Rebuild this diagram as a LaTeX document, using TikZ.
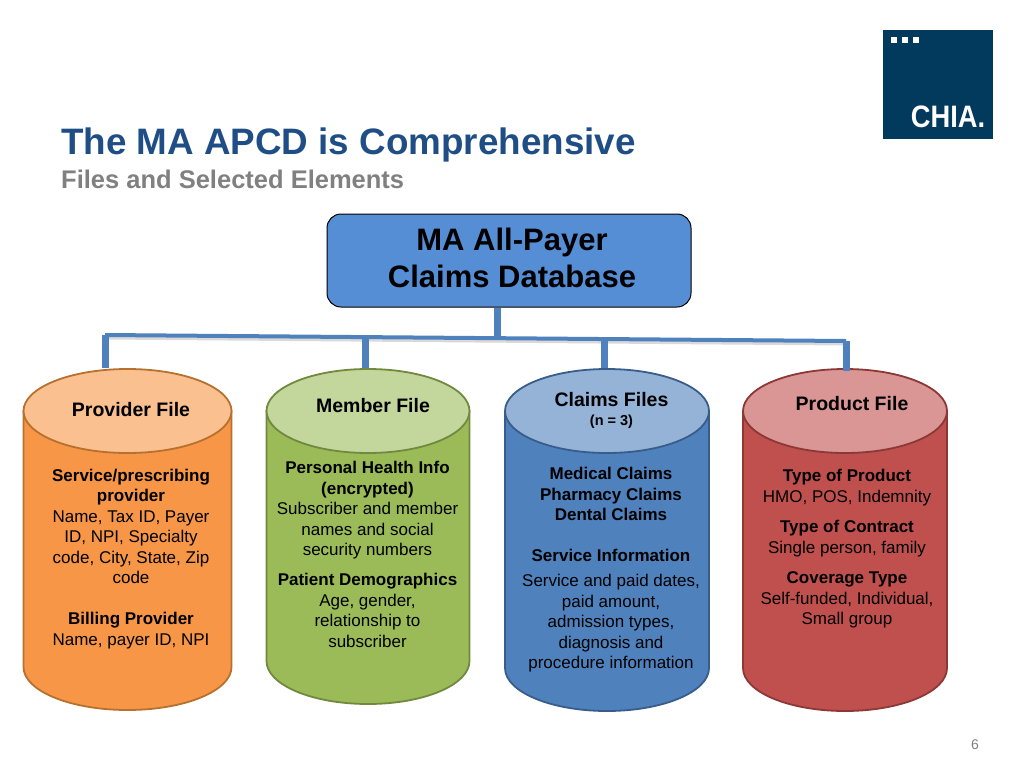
\documentclass[tikz,border=0pt]{standalone}
\usepackage{fontspec}
\setmainfont{Liberation Sans}
\usepackage{tikz}
\usetikzlibrary{shapes.geometric, positioning, calc}

\definecolor{titleblue}{HTML}{1F4E86}
\definecolor{logoblue}{HTML}{023A5E}
\definecolor{busblue}{HTML}{4F81BD}
\definecolor{rootblue}{HTML}{558ED5}
\definecolor{provbody}{HTML}{F79646}
\definecolor{provtop}{HTML}{FAC090}
\definecolor{provline}{HTML}{B7712F}
\definecolor{membody}{HTML}{9BBB59}
\definecolor{memtop}{HTML}{C3D69B}
\definecolor{memline}{HTML}{71893F}
\definecolor{claimbody}{HTML}{4F81BD}
\definecolor{claimtop}{HTML}{95B3D7}
\definecolor{claimline}{HTML}{385D8A}
\definecolor{prodbody}{HTML}{C0504D}
\definecolor{prodtop}{HTML}{D99694}
\definecolor{prodline}{HTML}{8C3836}

\tikzset{
	filetop/.style={ellipse, inner sep=0pt, line width=1.8pt, minimum height=84pt},
	filehead/.style={font=\bfseries\fontsize{19.5}{23}\selectfont, align=center},
	filetext/.style={font=\fontsize{17}{20.5}\selectfont, align=center, inner sep=0pt, anchor=north},
	stem/.style={busblue, line width=7pt},
	bus/.style={busblue, line width=4pt},
	busshadow/.style={black!25, line width=3pt, opacity=0.6},
	logodot/.style={fill=white, minimum size=6pt, inner sep=0pt},
}

\begin{document}
\begin{tikzpicture}[x=1pt, y=-1pt]
	\useasboundingbox (0,0) rectangle (1024,768);

	% Title
	\node[anchor=west, inner sep=0pt, text=titleblue, font=\bfseries\fontsize{36.8}{40}\selectfont] (title) at (61,145) {The MA APCD is Comprehensive};
	\node[anchor=west, inner sep=0pt, text=gray, font=\bfseries\fontsize{25.5}{28}\selectfont] (subtitle) at (61,179) {Files and Selected Elements};

	% Logo
	\node[fill=logoblue, minimum width=110pt, minimum height=109pt, inner sep=0pt] (logo) at (938,84.5) {};
	\node[logodot] (dot1) at (894,40.5) {};
	\node[logodot, right=4.5pt of dot1] (dot2) {};
	\node[logodot, right=4.5pt of dot2] (dot3) {};
	\node[text=white, inner sep=0pt, font=\bfseries\fontsize{31}{31}\selectfont] (chia) at (948,117) {\scalebox{0.88}[1]{CHIA.}};

	% Root
	\node[draw=black, fill=rootblue, rounded corners=14pt, line width=1pt, minimum width=364pt, minimum height=93pt] (root) at (509,260.5) {};
	\node[align=center, font=\bfseries\fontsize{31}{37}\selectfont] (roottext) at (512,257.5) {MA All-Payer\\Claims Database};

	% Files
	\draw[draw=provline, fill=provbody, line width=1.8pt] (23.5,411) -- (23.5,667) arc[start angle=180, end angle=360, x radius=104pt, y radius=43pt] -- (231.5,411) -- cycle;
	\draw[draw=memline, fill=membody, line width=1.8pt] (266.5,411) -- (266.5,661) arc[start angle=180, end angle=360, x radius=101.5pt, y radius=43pt] -- (469.5,411) -- cycle;
	\draw[draw=claimline, fill=claimbody, line width=1.8pt] (505,411) -- (505,668) arc[start angle=180, end angle=360, x radius=102pt, y radius=43pt] -- (709,411) -- cycle;
	\draw[draw=prodline, fill=prodbody, line width=1.8pt] (743,411) -- (743,668) arc[start angle=180, end angle=360, x radius=102pt, y radius=43pt] -- (947,411) -- cycle;
	\node[filetop, draw=provline, fill=provtop, minimum width=208pt] (provider) at (127.5,411) {};
	\node[filetop, draw=memline, fill=memtop, minimum width=203pt] (member) at (368,411) {};
	\node[filetop, draw=claimline, fill=claimtop, minimum width=204pt] (claims) at (607,411) {};
	\node[filetop, draw=prodline, fill=prodtop, minimum width=204pt] (product) at (845,411) {};

	% Connections
	\coordinate (busl) at (105,335);
	\coordinate (busr) at (846,341);
	\coordinate (busroot) at ($(busl)!0.53!(busr)$);
	\coordinate (busmem) at ($(busl)!0.351!(busr)$);
	\coordinate (busclaim) at ($(busl)!0.674!(busr)$);
	\draw[busshadow] ([yshift=-3pt]busl) -- ([yshift=-3pt]busr);
	\draw[bus] (busl) -- (busr);
	\draw[stem] (root.south -| busroot) -- (busroot);
	\draw[stem] (busl) -- (provider.north -| busl);
	\draw[stem] (busmem) -- (member.north -| busmem);
	\draw[stem] (busclaim) -- (claims.north -| busclaim);
	\draw[stem] (busr) -- ([yshift=-3pt]product.north -| busr);

	% Labels
	\node[filehead] (providerh) at (131,410) {Provider File};
	\node[filehead] (memberh) at (373,406) {Member File};
	\node[filehead] (claimsh) at (611.5,400) {Claims Files};
	\node[font=\bfseries\fontsize{14.5}{16}\selectfont, inner sep=0pt] (claimsn) at (611.5,422) {(n = 3)};
	\node[filehead] (producth) at (852,404) {Product File};

	\node[filetext] (providert) at (131,468.5) {\textbf{Service/prescribing}\\\textbf{provider}\\Name, Tax ID, Payer\\ID, NPI, Specialty\\code, City, State, Zip\\code\\[20.5pt]\textbf{Billing Provider}\\Name, payer ID, NPI};
	\node[filetext] (membert) at (367.5,461) {\textbf{Personal Health Info}\\\textbf{(encrypted)}\\Subscriber and member\\names and social\\security numbers\\[9.5pt]\textbf{Patient Demographics}\\Age, gender,\\relationship to\\subscriber};
	\node[filetext] (claimst) at (611,467) {\textbf{Medical Claims}\\\textbf{Pharmacy Claims}\\\textbf{Dental Claims}\\[20pt]\textbf{Service Information}\\[5pt]Service and paid dates,\\paid amount,\\admission types,\\diagnosis and\\procedure information};
	\node[filetext] (productt) at (847,469) {\textbf{Type of Product}\\HMO, POS, Indemnity\\[10pt]\textbf{Type of Contract}\\Single person, family\\[10pt]\textbf{Coverage Type}\\Self-funded, Individual,\\Small group};

	% Page number
	\node[text=gray, font=\fontsize{14}{16}\selectfont] (pagenum) at (975,745) {6};
\end{tikzpicture}
\end{document}
